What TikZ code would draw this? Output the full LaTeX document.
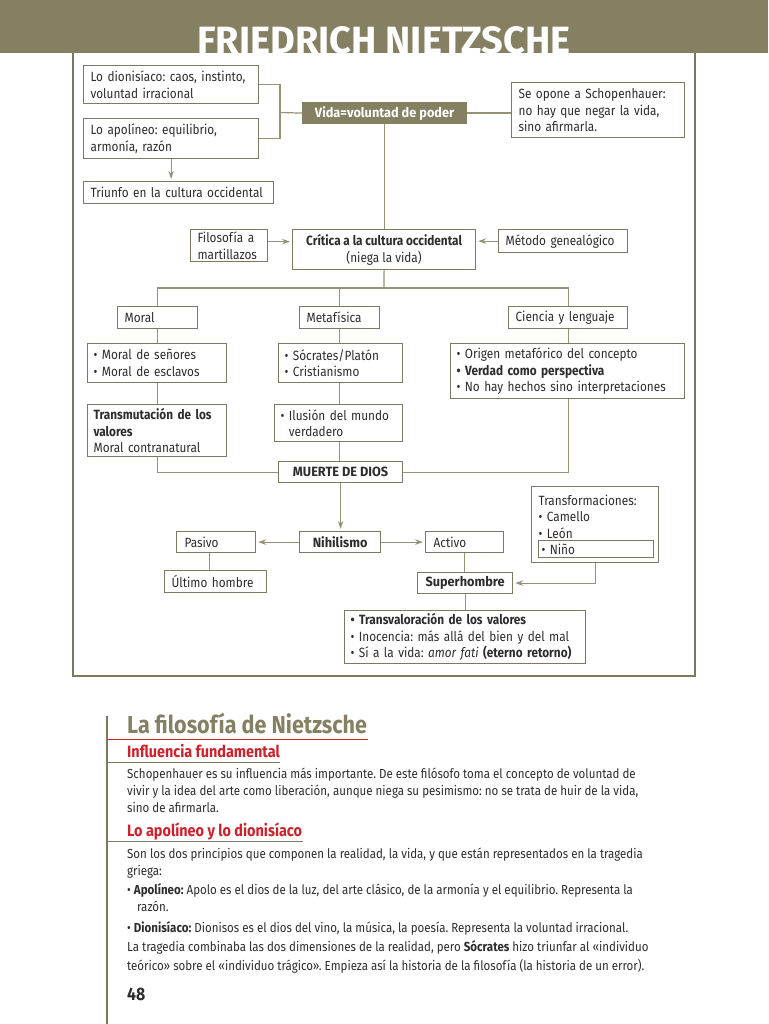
\documentclass[tikz,border=0pt]{standalone}
\usepackage{fontspec}
\setmainfont{Fira Sans}[FakeStretch=0.88]
\newfontfamily\titlefont{Fira Sans}
\newfontfamily\lblfont{Fira Sans}[FakeStretch=0.95]
\usetikzlibrary{arrows.meta}
\definecolor{olive}{RGB}{133,128,98}
\definecolor{boxline}{RGB}{125,121,96}
\definecolor{connc}{RGB}{150,146,118}
\definecolor{txt}{RGB}{45,45,45}
\definecolor{redh}{RGB}{208,32,42}
\frenchspacing
\begin{document}
\begin{tikzpicture}[x=1pt,y=-1pt,
 every node/.style={font=\fontsize{13.4}{16.5}\selectfont, text=txt},
 bx/.style={draw=boxline, line width=1.2pt, fill=white, anchor=north west, inner xsep=7pt, inner ysep=0pt, align=left},
 cbx/.style={draw=boxline, line width=1.2pt, fill=white, anchor=north west, inner sep=0pt, align=center},
 bfn/.style={font=\lblfont\fontsize{13.4}{16.5}\selectfont\bfseries},
 conn/.style={draw=connc, line width=1.2pt},
 arr/.style={conn, -{Stealth[length=8pt,width=5.5pt]}, shorten >=2pt},
 body/.style={anchor=base west, inner sep=0pt, font=\fontsize{13.1}{15}\selectfont},
 head/.style={anchor=base west, inner sep=0pt, text=redh, font=\fontsize{16.4}{16}\selectfont\bfseries}
]
\useasboundingbox (0,0) rectangle (768,1024);
\fill[white] (0,0) rectangle (768,1024);
% header
\fill[olive] (0,0) rectangle (768,53);
\node[anchor=base, inner sep=0pt, text=white, font=\titlefont\fontsize{38}{38}\selectfont\bfseries] (title) at (384,54) {FRIEDRICH NIETZSCHE};
% frame
\draw[boxline, line width=1.4pt] (73,53) -- (73,676) -- (695,676) -- (695,53);

% top left
\node[bx, text width=161pt, minimum height=38pt] (dion) at (83,65) {Lo dionisíaco: caos, instinto,\\voluntad irracional};
\node[bx, text width=161pt, minimum height=40pt] (apol) at (83,118) {Lo apolíneo: equilibrio,\\armonía, razón};
\node[bx, text width=176pt, minimum height=22pt] (triunfo) at (83,181) {Triunfo en la cultura occidental};
\node[cbx, fill=olive, draw=olive, minimum width=164pt, minimum height=21pt, text=white, bfn] (vida) at (302,102) {Vida=voluntad de poder};
\node[bx, text width=159pt, minimum height=55pt] (scho) at (511,82) {Se opone a Schopenhauer:\\no hay que negar la vida,\\sino afirmarla.};

\coordinate (brk) at (280,112.5);
\draw[conn] (dion.east) -| (brk) |- (apol.east);
\draw[conn] (brk) -- (vida.west);
\draw[arr] (apol.south) -- (apol.south |- triunfo.north);
\draw[conn] (vida.east) -- (vida.east -| scho.west);

% critica
\node[cbx, minimum width=183pt, minimum height=40pt] (crit) at (292,229) {\textbf{Crítica a la cultura occidental}\\(niega la vida)};
\node[bx, text width=63pt, minimum height=32pt] (filo) at (190,229) {Filosofía a\\martillazos};
\node[bx, text width=115pt, minimum height=23pt] (meto) at (498,229) {Método genealógico};
\draw[conn] (vida.south) -- (vida.south |- crit.north);
\draw[arr] ([yshift=4pt]filo.east) -- ([yshift=4pt]filo.east -| crit.west);
\draw[arr] (meto.west) -- (meto.west -| crit.east);

% three branches
\node[bx, text width=66pt, minimum height=22pt] (moral) at (117,306) {Moral};
\node[bx, text width=66pt, minimum height=22pt] (meta) at (299,306) {Metafísica};
\node[bx, text width=105pt, minimum height=22pt] (cien) at (508,306) {Ciencia y lenguaje};
\coordinate (bus) at (384,288);
\draw[conn] (crit.south) -- (bus);
\draw[conn] (moral.north) |- (bus) -| (cien.north);
\draw[conn] (meta.north) -- (meta.north |- bus);

\node[bx, inner xsep=6pt, text width=127pt, minimum height=39pt] (mlist) at (87,343) {• Moral de señores\\• Moral de esclavos};
\node[bx, inner xsep=6pt, text width=127pt, minimum height=52pt] (transm) at (87,404) {\textbf{Transmutación de los}\\\textbf{valores}\\Moral contranatural};
\node[bx, inner xsep=6pt, text width=112pt, minimum height=39pt] (soc) at (278,343) {• Sócrates/Platón\\• Cristianismo};
\node[bx, inner xsep=6pt, text width=116pt, minimum height=37pt] (ilu) at (274,404) {• Ilusión del mundo\\\hphantom{• }verdadero};
\node[cbx, minimum width=124pt, minimum height=21pt, bfn] (muerte) at (278,461) {MUERTE DE DIOS};
\node[bx, inner xsep=6pt, text width=222pt, minimum height=55pt] (clist) at (450,343) {• Origen metafórico del concepto\\\textbf{• Verdad como perspectiva}\\• No hay hechos sino interpretaciones};

\draw[conn] (moral.south) -- (moral.south |- mlist.north);
\draw[conn] (mlist.south) -- (mlist.south |- transm.north);
\draw[conn] (transm.south) |- (muerte.west);
\draw[conn] (meta.south) -- (meta.south |- soc.north);
\draw[conn] (meta.south |- soc.south) -- (meta.south |- ilu.north);
\draw[conn] (meta.south |- ilu.south) -- (meta.south |- muerte.north);
\draw[conn] (cien.south) -- (cien.south |- clist.north);
\draw[conn] (cien.south |- clist.south) |- (muerte.east);

% nihilismo
\node[cbx, minimum width=81pt, minimum height=21pt, bfn] (nihil) at (299,531) {Nihilismo};
\node[bx, inner xsep=8pt, text width=63pt, minimum height=21pt] (pasivo) at (176,531) {Pasivo};
\node[bx, inner xsep=8pt, text width=62pt, minimum height=21pt] (activo) at (425,531) {Activo};
\node[bx, text width=88pt, minimum height=22pt] (ultimo) at (164,570) {Último hombre};
\node[cbx, minimum width=95pt, minimum height=21pt, bfn] (superh) at (417,572) {Superhombre};
\node[bx, text width=113pt, minimum height=76pt] (transf) at (531,486) {Transformaciones:\\• Camello\\• León\\\mbox{}};
\node[bx, draw=boxline, line width=1pt, inner xsep=3pt, text width=109pt, minimum height=17pt] (nino) at (538,540) {• Niño};
\node[bx, inner xsep=6pt, text width=229pt, minimum height=53pt] (final) at (344,610) {\textbf{• Transvaloración de los valores}\\• Inocencia: más allá del bien y del mal\\• Sí a la vida: \textit{amor fati} \textbf{(eterno retorno)}};

\draw[arr] (muerte.south) -- (muerte.south |- nihil.north);
\draw[arr] (nihil.west) -- (pasivo.east);
\draw[arr] (nihil.east) -- (activo.west);
\draw[conn] ([xshift=-7pt]pasivo.south) -- ([xshift=-7pt]pasivo.south |- ultimo.north);
\draw[conn] (activo.south) -- (activo.south |- superh.north);
\draw[arr] (transf.south) |- (superh.east);
\draw[conn] (superh.south) -- (superh.south |- final.north);

% lower text section
\draw[boxline, line width=1.2pt] (107,716) -- (107,1024);
\node[anchor=base west, inner sep=0pt, text=olive, font=\fontsize{24.5}{24}\selectfont\bfseries] (h1) at (127,733) {La filosofía de Nietzsche};
\draw[redh, line width=1pt] (107,739) -- (368,739);
\node[head] (h2) at (127,757) {Influencia fundamental};
\draw[boxline, line width=1pt] (107,762) -- (280,762);
\node[body] (p1) at (127,778) {Schopenhauer es su influencia más importante. De este filósofo toma el concepto de voluntad de};
\node[body] (p2) at (127,795) {vivir y la idea del arte como liberación, aunque niega su pesimismo: no se trata de huir de la vida,};
\node[body] (p3) at (127,812) {sino de afirmarla.};
\node[head] (h3) at (127,836) {Lo apolíneo y lo dionisíaco};
\draw[boxline, line width=1pt] (107,841) -- (303,841);
\node[body] (q1) at (127,858) {Son los dos principios que componen la realidad, la vida, y que están representados en la tragedia};
\node[body] (q2) at (127,875) {griega:};
\node[body] (q3) at (127,894) {• \textbf{Apolíneo:} Apolo es el dios de la luz, del arte clásico, de la armonía y el equilibrio. Representa la};
\node[body] (q4) at (137,911) {razón.};
\node[body] (q5) at (127,932) {• \textbf{Dionisíaco:} Dionisos es el dios del vino, la música, la poesía. Representa la voluntad irracional.};
\node[body] (q6) at (127,951) {La tragedia combinaba las dos dimensiones de la realidad, pero \textbf{Sócrates} hizo triunfar al «individuo};
\node[body] (q7) at (127,970) {teórico» sobre el «individuo trágico». Empieza así la historia de la filosofía (la historia de un error).};
\node[anchor=base west, inner sep=0pt, font=\fontsize{18}{18}\selectfont\bfseries] (pg) at (127,1000) {48};
\end{tikzpicture}
\end{document}
